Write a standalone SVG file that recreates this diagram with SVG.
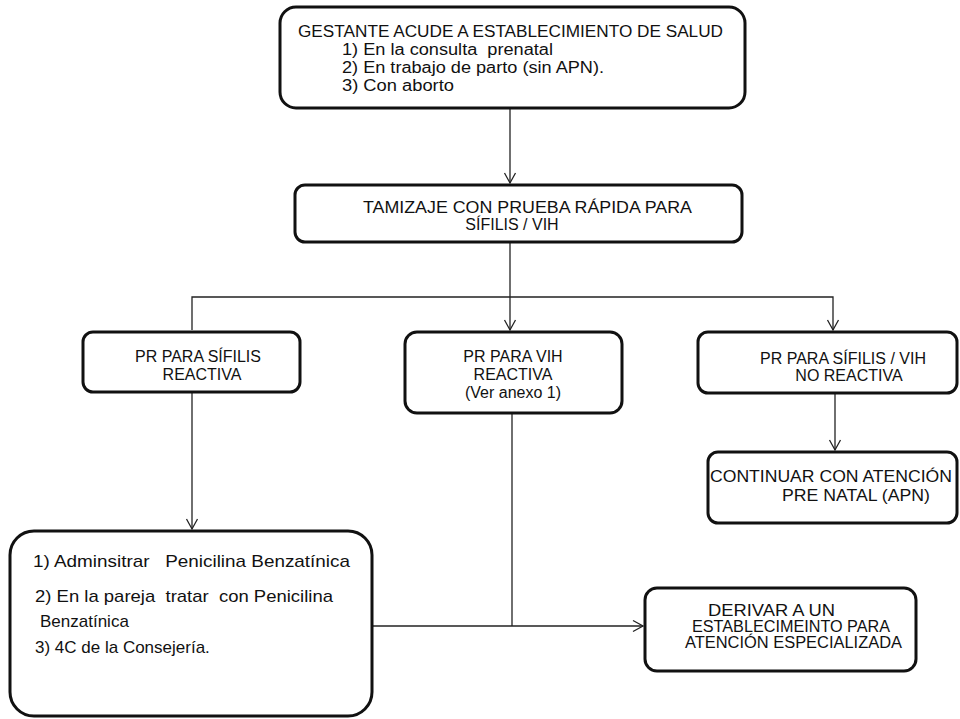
<svg xmlns="http://www.w3.org/2000/svg" width="960" height="719" viewBox="0 0 960 719">
<style>
  .box { fill: #ffffff; stroke: #111111; stroke-width: 3; }
  .t { font-family: "Liberation Sans", "Open Sans", sans-serif; font-size: 16px; fill: #111111; }
  .big { font-size: 17px; }
  .c { text-anchor: middle; }
  .line { fill: none; stroke: #222222; stroke-width: 1.3; }
</style>
<defs>
  <marker id="arr" markerWidth="14" markerHeight="14" refX="12" refY="7" orient="auto" markerUnits="userSpaceOnUse">
    <path d="M2,1.5 L12,7 L2,12.5" fill="none" stroke="#222222" stroke-width="1.3"/>
  </marker>
</defs>
<rect width="960" height="719" fill="#ffffff"/>

<g id="connectors">
  <path class="line" d="M510,108 L510,183" marker-end="url(#arr)"/>
  <path class="line" d="M510,242 L510,330" marker-end="url(#arr)"/>
  <path class="line" d="M192,330 L192,297 L833,297 L833,330" marker-end="url(#arr)"/>
  <path class="line" d="M835,393 L835,450" marker-end="url(#arr)"/>
  <path class="line" d="M192,392 L192,529" marker-end="url(#arr)"/>
  <path class="line" d="M512,413 L512,626"/>
  <path class="line" d="M372,626 L643,626" marker-end="url(#arr)"/>
</g>

<g id="n-gestante">
  <rect class="box" x="280" y="7" width="465" height="101" rx="16"/>
  <text class="t" x="298" y="37" textLength="425" lengthAdjust="spacingAndGlyphs">GESTANTE ACUDE A ESTABLECIMIENTO DE SALUD</text>
  <text class="t" x="342" y="55" xml:space="preserve" textLength="211" lengthAdjust="spacingAndGlyphs">1) En la consulta  prenatal</text>
  <text class="t" x="342" y="73" textLength="262" lengthAdjust="spacingAndGlyphs">2) En trabajo de parto (sin APN).</text>
  <text class="t" x="342" y="91" textLength="112" lengthAdjust="spacingAndGlyphs">3) Con aborto</text>
</g>

<g id="n-tamizaje">
  <rect class="box" x="295" y="185" width="447" height="57" rx="10"/>
  <text class="t" x="363" y="213" textLength="329" lengthAdjust="spacingAndGlyphs">TAMIZAJE CON PRUEBA RÁPIDA PARA</text>
  <text class="t c" x="512" y="230">SÍFILIS / VIH</text>
</g>

<g id="n-sifilis">
  <rect class="box" x="83" y="332" width="217" height="60" rx="10"/>
  <text class="t c" x="198" y="362">PR PARA SÍFILIS</text>
  <text class="t c" x="202" y="380">REACTIVA</text>
</g>

<g id="n-vih">
  <rect class="box" x="405" y="332" width="217" height="81" rx="12"/>
  <text class="t c" x="513" y="362">PR PARA VIH</text>
  <text class="t c" x="513" y="380">REACTIVA</text>
  <text class="t c" x="513" y="398">(Ver anexo 1)</text>
</g>

<g id="n-noreactiva">
  <rect class="box" x="698" y="332" width="259" height="61" rx="10"/>
  <text class="t c" x="843" y="364">PR PARA SÍFILIS / VIH</text>
  <text class="t c" x="849" y="381">NO REACTIVA</text>
</g>

<g id="n-continuar">
  <rect class="box" x="708" y="452" width="249" height="71" rx="10"/>
  <text class="t" x="710" y="482" textLength="242" lengthAdjust="spacingAndGlyphs">CONTINUAR CON ATENCIÓN</text>
  <text class="t" x="782" y="501" textLength="148" lengthAdjust="spacingAndGlyphs">PRE NATAL (APN)</text>
</g>

<g id="n-tratamiento">
  <rect class="box" x="10" y="531" width="362" height="185" rx="24"/>
  <text class="t big" x="33" y="567" xml:space="preserve" textLength="317" lengthAdjust="spacingAndGlyphs">1) Adminsitrar   Penicilina Benzatínica</text>
  <text class="t big" x="35" y="602" xml:space="preserve" textLength="298" lengthAdjust="spacingAndGlyphs">2) En la pareja  tratar  con Penicilina</text>
  <text class="t big" x="40" y="627">Benzatínica</text>
  <text class="t big" x="35" y="653">3) 4C de la Consejería.</text>
</g>

<g id="n-derivar">
  <rect class="box" x="645" y="588" width="271" height="83" rx="12"/>
  <text class="t" x="708" y="616" textLength="127" lengthAdjust="spacingAndGlyphs">DERIVAR A UN</text>
  <text class="t" x="692" y="632" textLength="198" lengthAdjust="spacingAndGlyphs">ESTABLECIMEINTO PARA</text>
  <text class="t" x="685" y="648" textLength="217" lengthAdjust="spacingAndGlyphs">ATENCIÓN ESPECIALIZADA</text>
</g>
</svg>
